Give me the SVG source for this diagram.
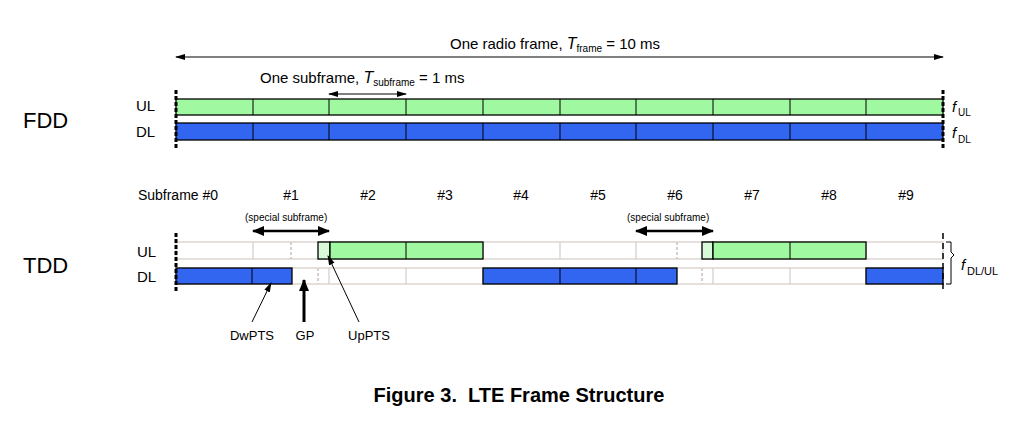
<svg xmlns="http://www.w3.org/2000/svg" width="1014" height="428" viewBox="0 0 1014 428">
<style>
text{font-family:"Liberation Sans",Arial,sans-serif;fill:#000}
.g{fill:#a0f8a0;stroke:#000;stroke-width:1.3}
.lg{fill:#d8fad8;stroke:#000;stroke-width:1.3}
.b{fill:#3366f0;stroke:#000;stroke-width:1.3}
.e{fill:#fff;stroke:#d8d0c8;stroke-width:1.3}
.d{stroke:#d8d0c8;stroke-width:2;stroke-dasharray:3,2}
.m{stroke:#000;stroke-width:3;stroke-dasharray:4,2}
.t{stroke:#000;stroke-width:1}
</style>
<defs>
<marker id="a" markerWidth="10" markerHeight="8" refX="9" refY="4" orient="auto-start-reverse" markerUnits="userSpaceOnUse"><path d="M0,1 L10,4 L0,7z" fill="#000"/></marker>
<marker id="ab" markerWidth="12" markerHeight="10" refX="11" refY="5" orient="auto-start-reverse" markerUnits="userSpaceOnUse"><path d="M0,0 L12,5 L0,10z" fill="#000"/></marker>
</defs>
<g id="fdd">
<text x="23" y="128" font-size="22">FDD</text>
<text x="136" y="111" font-size="15">UL</text>
<text x="136" y="137" font-size="15">DL</text>
<rect class="g" x="176" y="99" width="767" height="16"/>
<rect class="b" x="176" y="123" width="767" height="17"/>
<path class="t" d="M253,99v16M329,99v16M406,99v16M483,99v16M560,99v16M636,99v16M713,99v16M790,99v16M866,99v16M253,123v17M329,123v17M406,123v17M483,123v17M560,123v17M636,123v17M713,123v17M790,123v17M866,123v17"/>
<path class="m" d="M176,90v60M943,90v60"/>
<text x="952" y="112" font-size="15" font-style="italic">f</text><text x="958" y="116" font-size="10">UL</text>
<text x="952" y="138" font-size="15" font-style="italic">f</text><text x="958" y="143" font-size="10">DL</text>
</g>
<g id="labels">
<text x="450" y="49" font-size="15">One radio frame, <tspan font-style="italic" font-size="16">T</tspan><tspan font-size="10" dy="3">frame</tspan><tspan dy="-3"> = 10 ms</tspan></text>
<text x="260" y="83" font-size="15">One subframe, <tspan font-style="italic" font-size="16">T</tspan><tspan font-size="10" dy="3">subframe</tspan><tspan dy="-3"> = 1 ms</tspan></text>
</g>
<g id="tdd">
<text x="23" y="273" font-size="22">TDD</text>
<text x="137" y="257" font-size="15">UL</text>
<text x="137" y="282" font-size="15">DL</text>
<g font-size="14" text-anchor="middle">
<text x="178" y="200">Subframe #0</text><text x="291" y="200">#1</text><text x="368" y="200">#2</text><text x="445" y="200">#3</text><text x="521" y="200">#4</text><text x="598" y="200">#5</text><text x="675" y="200">#6</text><text x="752" y="200">#7</text><text x="829" y="200">#8</text><text x="906" y="200">#9</text>
</g>
<rect class="e" x="176" y="242" width="767" height="17"/>
<rect class="e" x="176" y="268" width="767" height="16"/>
<path class="e" d="M253,242v17M329,242v17M406,242v17M483,242v17M560,242v17M636,242v17M713,242v17M790,242v17M866,242v17M253,268v16M329,268v16M406,268v16M483,268v16M560,268v16M636,268v16M713,268v16M790,268v16M866,268v16"/>
<path class="d" d="M291,242v17M318,268v16M677,242v17M702,268v16"/>
<rect class="lg" x="318" y="242" width="12" height="17"/>
<rect class="g" x="330" y="242" width="153" height="17"/>
<path class="t" d="M406,242v17"/>
<rect class="lg" x="702" y="242" width="11" height="17"/>
<rect class="g" x="713" y="242" width="153" height="17"/>
<path class="t" d="M790,242v17"/>
<rect class="b" x="176" y="268" width="116" height="16"/>
<path class="t" d="M252,268v16"/>
<rect class="b" x="483" y="268" width="194" height="16"/>
<path class="t" d="M560,268v16M636,268v16"/>
<rect class="b" x="866" y="268" width="77" height="16"/>
<path class="m" d="M176,233v60"/>
<path d="M943,233v60" stroke="#000" stroke-width="1.5" stroke-dasharray="6,4"/>
<path d="M946,242h5v10l3,3l-3,3v26h-5" fill="none" stroke="#000" stroke-width="1"/>
<text x="961" y="270" font-size="15" font-style="italic">f</text><text x="967" y="275" font-size="11">DL/UL</text>
<text x="245" y="221" font-size="10">(special subframe)</text>
<text x="627" y="221" font-size="10">(special subframe)</text>
<text x="252" y="340" font-size="13" text-anchor="middle">DwPTS</text>
<text x="305" y="340" font-size="13" text-anchor="middle">GP</text>
<text x="369" y="340" font-size="13" text-anchor="middle">UpPTS</text>
</g>
<g id="connectors">
<path d="M176,57H943" class="t" marker-start="url(#a)" marker-end="url(#a)"/>
<path d="M329,94H406" class="t" marker-start="url(#a)" marker-end="url(#a)"/>
<path d="M253,231H329" stroke="#000" stroke-width="2.5" marker-start="url(#ab)" marker-end="url(#ab)"/>
<path d="M636,231H713" stroke="#000" stroke-width="2.5" marker-start="url(#ab)" marker-end="url(#ab)"/>
<path d="M252,322L271,283" class="t" marker-end="url(#a)"/>
<path d="M304,322V280" stroke="#000" stroke-width="3" marker-end="url(#ab)"/>
<path d="M359,322L328,256" class="t" marker-end="url(#a)"/>
</g>
<text x="519" y="402" font-size="20" font-weight="bold" text-anchor="middle" xml:space="preserve">Figure 3.  LTE Frame Structure</text>
</svg>
